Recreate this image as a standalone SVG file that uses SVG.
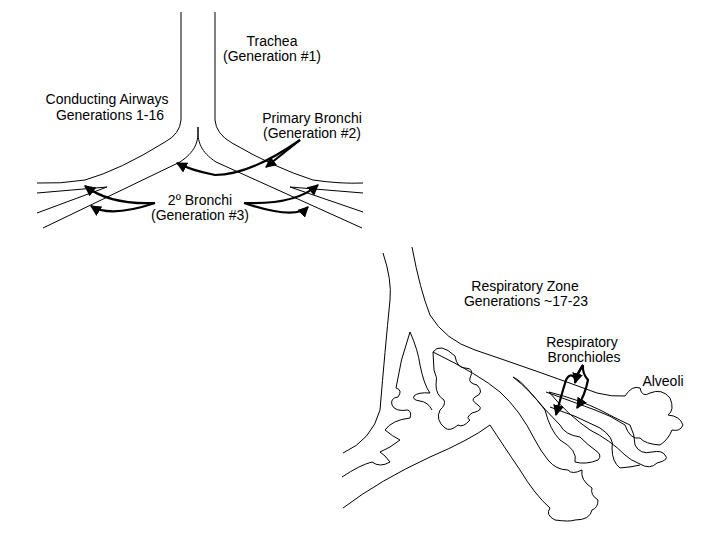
<svg xmlns="http://www.w3.org/2000/svg" width="720" height="540" viewBox="0 0 720 540">
<defs>
<marker id="ah" viewBox="0 0 10 10" refX="9" refY="5" markerWidth="5" markerHeight="5" orient="auto"><path d="M0,0L10,5L0,10z" fill="#000"/></marker>
<style>
.l{fill:none;stroke:#000;stroke-width:1}
.a{fill:none;stroke:#000;stroke-width:2.2;marker-end:url(#ah)}
text{font-family:"Liberation Sans",Arial,sans-serif;font-size:14px;fill:#000;text-anchor:middle}
</style>
</defs>
<rect width="720" height="540" fill="#fff"/>
<g id="airways">
<path class="l" d="M181,12V120Q180,134 165,142Q120,170 85,180Q60,184 37,183"/>
<path class="l" d="M215,12V120Q216,134 232,143Q275,168 313,180Q340,184 363,183"/>
<path class="l" d="M198,127C199,142 195,152 180,162L43,228"/>
<path class="l" d="M198,127C197,142 201,152 216,162L362,228"/>
<path class="l" d="M37,193L107,187L37,213"/>
<path class="l" d="M363,193L290,187L363,212"/>
</g>
<g id="resp">
<path class="l" d="M383,253Q392,280 390,300Q385,350 380,410Q372,440 343,453"/>
<path class="l" d="M412,247Q420,290 430,315Q445,340 475,350Q540,372 597,393Q612,397 625,396Q632,385 640,388Q642,398 650,393Q662,388 670,398Q675,410 668,415Q680,416 683,425Q680,432 672,430Q668,440 660,445Q645,444 640,438Q630,440 625,425Q610,415 595,410L546,392"/>
<path class="l" d="M342,477Q360,465 372,462Q380,468 390,462Q385,455 380,452Q390,448 400,440Q392,436 385,430Q392,420 410,418Q412,412 408,410Q395,412 392,405Q390,398 398,397Q403,390 396,388Q400,360 410,332Q418,350 420,365Q424,385 430,393Q418,392 414,396Q412,400 420,401Q428,402 432,410"/>
<path class="l" d="M433,352Q440,342 455,356Q457,368 465,368Q475,368 470,378Q468,383 477,385Q485,393 475,397Q470,400 478,405Q485,410 472,413Q465,418 470,420Q463,428 458,425Q450,432 445,428Q435,420 440,410Q446,405 444,400Q436,395 436,385Q438,378 434,370Z"/>
<path class="l" d="M343,508Q380,480 430,457Q470,440 490,425Q503,445 520,470Q535,495 550,508Q545,515 555,520Q570,522 575,520Q590,520 592,510Q598,508 598,500Q590,495 592,488Q580,480 582,470Q572,475 568,470Q556,470 548,460Q540,450 535,440Q520,410 500,392Q480,375 433,352"/>
<path class="l" d="M513,377Q530,390 545,410Q550,430 560,440Q578,450 575,462Q586,465 598,460Q603,455 595,450Q588,445 580,437Q565,435 560,425Q545,410 530,392Q520,380 513,377Z"/>
<path class="l" d="M549,392Q580,400 600,410Q615,418 630,425Q635,435 635,445Q640,455 652,452Q662,450 665,455Q670,460 657,463Q650,470 640,464Q630,460 625,455Q610,440 590,430Q568,415 549,392"/>
<path class="l" d="M550,407Q575,415 600,428Q615,438 612,448Q612,462 620,468Q632,467 640,465"/>
</g>
<g id="connectors">
<path class="a" d="M300,140Q250,175 215,175Q190,170 177,163"/>
<path class="a" d="M300,140L266,167"/>
<path class="a" d="M155,203Q110,205 85,186"/>
<path class="a" d="M155,203Q110,218 91,206"/>
<path class="a" d="M244,203Q295,205 318,185"/>
<path class="a" d="M244,203Q295,220 308,207"/>
<path class="a" d="M583,365Q580,370 575,378Q570,372 566,380Q560,400 556,415"/>
<path class="a" d="M583,365Q578,372 575,383"/>
<path class="a" d="M583,365Q582,373 588,380Q585,395 577,408"/>
</g>
<g id="labels">
<text x="272" y="46">Trachea</text>
<text x="272" y="61">(Generation #1)</text>
<text x="107" y="104">Conducting Airways</text>
<text x="110" y="120">Generations 1-16</text>
<text x="312" y="123">Primary Bronchi</text>
<text x="312" y="138">(Generation #2)</text>
<text x="200" y="205">2º Bronchi</text>
<text x="200" y="220">(Generation #3)</text>
<text x="525" y="291">Respiratory Zone</text>
<text x="526" y="306">Generations ~17-23</text>
<text x="582" y="347">Respiratory</text>
<text x="584" y="362">Bronchioles</text>
<text x="663" y="386">Alveoli</text>
</g>
</svg>
